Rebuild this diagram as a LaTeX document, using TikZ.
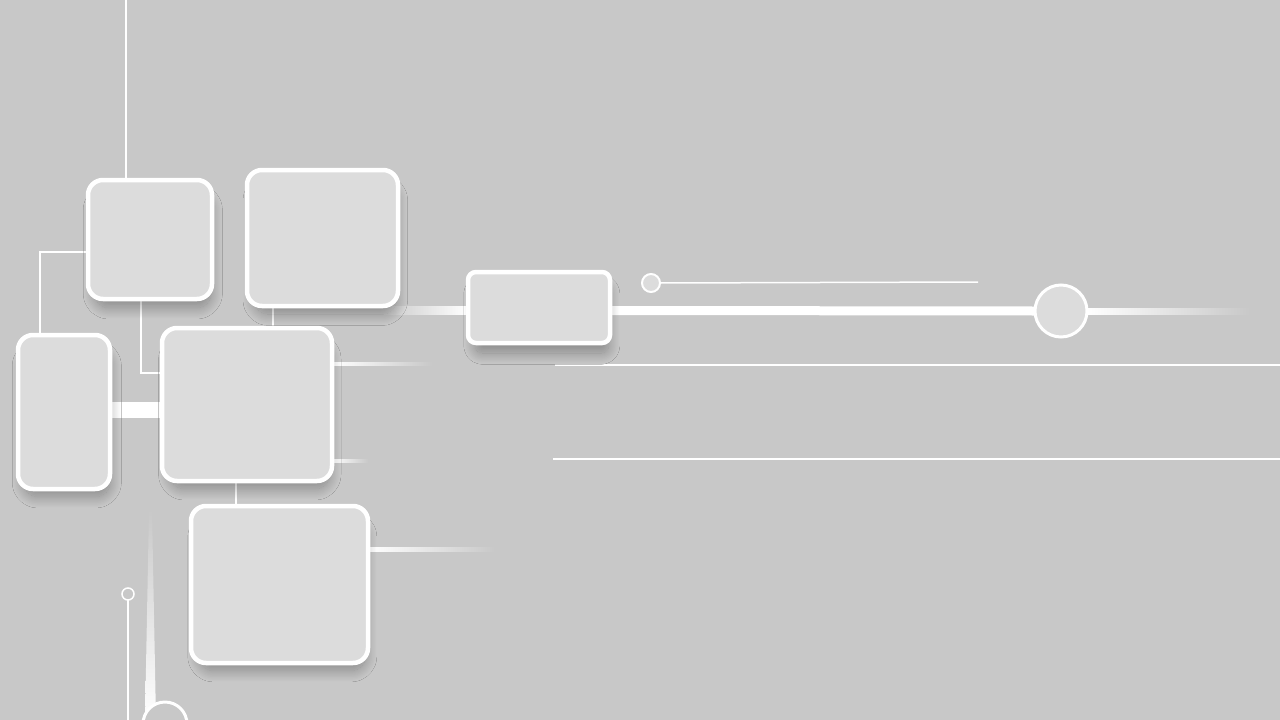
\documentclass[tikz,border=0pt]{standalone}
\usetikzlibrary{shadows.blur}
\definecolor{bg}{RGB}{200,200,200}
\definecolor{boxgray}{RGB}{220,220,220}
\colorlet{rim}{white}
\tikzstyle{slot}=[rectangle, inner sep=0pt]
\tikzstyle{box}=[slot, draw=rim, line width=4.5pt, fill=boxgray, rounded corners=15pt,
  blur shadow={shadow xshift=3pt, shadow yshift=-13pt, shadow scale=0.94, shadow blur radius=12pt,
    shadow blur steps=24, shadow opacity=32}]
\tikzstyle{link}=[draw=rim, line width=2pt]
\tikzstyle{bus}=[draw=rim, line width=9pt]
\tikzstyle{ring}=[circle, draw=rim, fill=boxgray, line width=3pt, inner sep=0pt]
\tikzstyle{fade}=[left color=rim, right color=bg]

\begin{document}
\begin{tikzpicture}[x=1pt, y=-1pt]
  \def\boxes{A/150/239.5/124/119/15, B/322.5/238/151/136/15, C/64/412/92/154/15,
             D/247/404.5/170/153/15, E/279.5/584.5/177/157/15, F/539/307.5/142/71/8}
  \useasboundingbox (0,0) rectangle (1280,720);
  \clip (0,0) rectangle (1280,720);
  \fill[bg] (0,0) rectangle (1280,720);

  % BOX SLOTS (named, not drawn)
  \foreach \n/\x/\y/\w/\h/\r in \boxes{
    \node[slot, minimum width=\w, minimum height=\h] (\n) at (\x,\y) {};
  }

  % CIRCLES
  \coordinate (top) at (126,0);
  \coordinate (base) at (128,720);
  \path (1061,311) node[circle, minimum size=52] (ring) {}
        (651,283) node[circle, minimum size=18] (dot) {}
        (128,594) node[circle, minimum size=12] (pin) {};

  % CONNECTORS
  \draw[link] (top) -- (top |- A.north);
  \draw[link] ([yshift=-12pt]A.west) -| ([xshift=-24pt]C.north);
  \draw[link] ([xshift=-9pt]A.south) |- ([yshift=32pt]D.west);
  \draw[link, line width=16pt] ([yshift=2pt]C.east) -- ([yshift=2pt]C.east -| D.west);
  \draw[link] ([xshift=-50pt]B.south) -- ([xshift=-50pt]B.south |- D.north);
  \draw[link] ([xshift=-11pt]D.south) -- ([xshift=-11pt]D.south |- E.north);
  \draw[bus] ([yshift=-3pt]F.east) -- (ring.west);
  \draw[link, line width=1.5pt] (dot.east) -- (978,282);
  \draw[link, line width=1.5pt] (pin.south) -- (base);

  % FADING LINES
  \shade[left color=bg, right color=rim] (380,306) rectangle ([yshift=-7pt]F.west);
  \shade[fade] (ring.east |- 0,308) rectangle (1250,314);
  \shade[fade] (D.east |- 0,362) rectangle (432,365);
  \shade[fade] (D.east |- 0,459) rectangle (368,462);
  \shade[fade] (E.east |- 0,547) rectangle (495,551);
  \shade[top color=bg, bottom color=rim] (149,510) -- (152,510) -- (156,720) -- (145,720) -- cycle;

  % LONG LINES
  \draw[link] (555,365) -- (1280,365);
  \draw[link] (553,459) -- (1280,459);

  % BOXES
  \foreach \n/\x/\y/\w/\h/\r in \boxes{
    \node[box, rounded corners=\r, minimum width=\w, minimum height=\h] at (\n) {};
  }
  \node[ring, minimum size=52] at (ring) {};
  \node[ring, line width=2pt, minimum size=18] at (dot) {};
  \node[ring, line width=1.5pt, fill=bg, minimum size=12] at (pin) {};
  \node[ring, fill=bg, minimum size=44] (wheel) at (165,724) {};
\end{tikzpicture}
\end{document}
